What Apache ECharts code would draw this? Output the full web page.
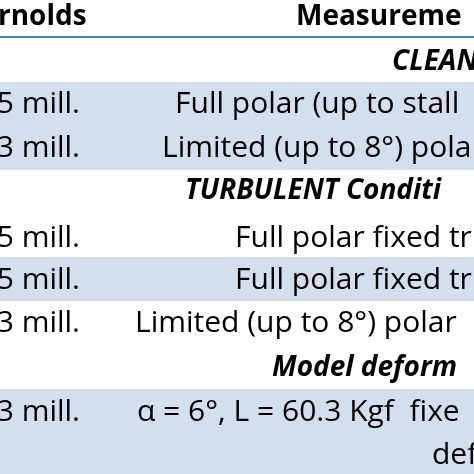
<!DOCTYPE html><html><head><meta charset="utf-8"><script src="https://cdn.jsdelivr.net/npm/echarts@6/dist/echarts.min.js"></script>
<style>html,body{margin:0;padding:0;background:#fff}#c{width:474px;height:474px}</style></head><body><div id="c"></div><script>
const reynolds = ["rnolds","","5 mill.","3 mill.","","5 mill.","5 mill.","3 mill.","","3 mill.",""];
const measurement = ["Measureme","CLEAN","Full polar (up to stall","Limited (up to 8°) pola","TURBULENT Conditi","Full polar fixed tr","Full polar fixed tr","Limited (up to 8°) polar","Model deform","α = 6°, L = 60.3 Kgf  fixe","def"];
const rowKind = ["head","sec","row","row","sec","row","row","row","sec","row","row"];
const rowY = [17,62,104,148,191,238,280,323,368,412,455];
const measX = [296,392,175,162,185,235,235,135,272,137,432];
const shaded = [[82,170],[257,301],[389,474]];
const chart = echarts.init(document.getElementById('c'));
const els = [];
shaded.forEach(s=>els.push({type:'rect',shape:{x:0,y:s[0],width:474,height:s[1]-s[0]},style:{fill:'#d3dfee'}}));
els.push({type:'rect',shape:{x:0,y:36,width:474,height:2},style:{fill:'#4f81bd'}});
const ff='"Open Sans", sans-serif';
rowY.forEach((y,i)=>{
  const bold = rowKind[i]!=='row';
  const italic = rowKind[i]==='sec';
  const fs = bold ? 28 : 30;
  if(reynolds[i]) els.push({type:'text',x:i===0?-2:80,y:y,style:{text:reynolds[i],textAlign:i===0?'left':'right',textVerticalAlign:'middle',font:(bold?'bold ':'')+fs+'px '+ff,fill:'#000'}});
  els.push({type:'text',x:measX[i],y:y,style:{text:measurement[i],textAlign:'left',textVerticalAlign:'middle',font:(italic?'italic ':'')+(bold?'bold ':'')+fs+'px '+ff,fill:'#000'}});
});
chart.setOption({animation:false,graphic:els});
</script></body></html>
